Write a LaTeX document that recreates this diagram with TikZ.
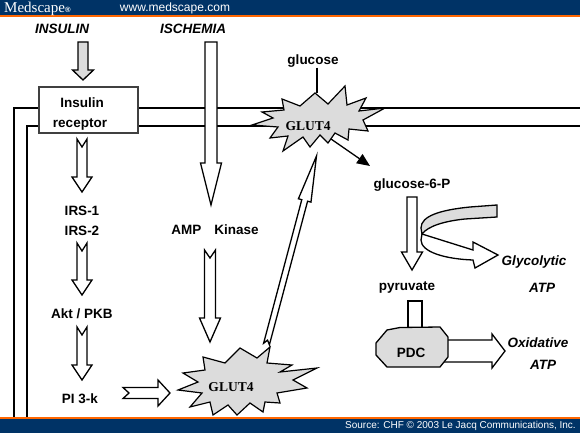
\documentclass[tikz,border=0pt]{standalone}
\usepackage{fontspec}
\setmainfont{Liberation Sans}
\newfontfamily\timesf{Liberation Serif}
\usepackage{tikz}
\usetikzlibrary{calc,arrows.meta}
\definecolor{mblue}{HTML}{003366}
\definecolor{morange}{HTML}{FF6600}
\definecolor{fillg}{HTML}{DCDCDC}
\definecolor{boxg}{HTML}{404040}
\tikzset{
  mem/.style={draw=black, line width=1.7pt},
  blk/.style n args={4}{draw=black, line width=1.3pt, fill=white, to path={
      ($(\tikztostart)!#1!90:(\tikztotarget)$) -- ($(\tikztostart)!#4!(\tikztotarget)$)
      -- ($(\tikztostart)!#1!-90:(\tikztotarget)$)
      -- ($(\tikztotarget)!#3!(\tikztostart)!#1!90:(\tikztostart)$)
      -- ($(\tikztotarget)!#3!(\tikztostart)!#2!90:(\tikztostart)$)
      -- (\tikztotarget)
      -- ($(\tikztotarget)!#3!(\tikztostart)!#2!-90:(\tikztostart)$)
      -- ($(\tikztotarget)!#3!(\tikztostart)!#1!-90:(\tikztostart)$) -- cycle}},
  burst/.style={draw=black, line width=1.2pt, fill=fillg},
  thin/.style={draw=black, line width=1.3pt},
  lab/.style={font=\fontsize{13.5}{16}\selectfont\bfseries, anchor=base, inner sep=0pt},
  labi/.style={lab, font=\fontsize{13.5}{16}\selectfont\bfseries\itshape},
  glut/.style={font=\timesf\fontsize{13.5}{16}\selectfont\bfseries, anchor=base, inner sep=0pt},
  bar/.style={text=white, inner sep=0pt},
}
\begin{document}
\begin{tikzpicture}[x=1pt,y=-1pt]
  \useasboundingbox (0,0) rectangle (580,433);
  \fill[mblue] (0,0) rectangle (580,15);
  \fill[morange] (0,15) rectangle (580,17.5);
  \fill[morange] (0,416.5) rectangle (580,419);
  \fill[mblue] (0,419) rectangle (580,433);
  \node[bar, anchor=base west, font=\timesf\fontsize{15}{16}\selectfont] (med) at (4,12.5)
    {Medscape{\rmfamily\bfseries\fontsize{7.5}{8}\selectfont ®}};
  \node[bar, anchor=base, font=\fontsize{12}{14}\selectfont] (web) at (175,11.5) {www.medscape.com};
  \node[bar, anchor=base east, font=\fontsize{10}{12}\selectfont] (src) at (576,428.5)
    {Source: CHF © 2003 Le Jacq Communications, Inc.};

  \draw[mem] (14,416.5) -- (14,108) -- (580,108);
  \draw[mem] (27,416.5) -- (27,126) -- (580,126);

  \node[labi] (ins) at (62,34) {INSULIN};
  \node[labi] (isch) at (193,34) {ISCHEMIA};
  \node[draw=boxg, line width=1.6pt, fill=white, minimum width=99pt, minimum height=46pt,
        inner sep=0pt] (rec) at (88.5,110) {};
  \node[lab] (recA) at (82,107) {Insulin};
  \node[lab] (recB) at (80,128) {receptor};
  \node[lab] (irsA) at (82,215) {IRS-1};
  \node[lab] (irsB) at (82,235) {IRS-2};
  \node[lab] (akt) at (82,318) {Akt / PKB};
  \node[lab] (pik) at (80,403) {PI 3-k};
  \node[lab] (amp) at (215,234) {AMP\hspace{13pt}Kinase};
  \node[lab] (glu) at (313,64.5) {glucose};
  \node[lab] (gsp) at (412,188) {glucose-6-P};
  \node[lab] (pyr) at (407,290) {pyruvate};
  \node[labi] (gly) at (534,265) {Glycolytic};
  \node[labi] (atpA) at (542,292) {ATP};
  \node[labi] (oxi) at (538,347) {Oxidative};
  \node[labi] (atpB) at (543,369) {ATP};

  \coordinate (insS) at (83,42);    \coordinate (insT) at (83,80);
  \coordinate (ischS) at (211,42);  \coordinate (ischT) at (211,205);
  \coordinate (recS) at (82,139);   \coordinate (irsT) at (82,192);
  \coordinate (irsS) at (82,243);   \coordinate (aktT) at (82,295);
  \coordinate (aktS) at (82,327);   \coordinate (pikT) at (82,380);
  \coordinate (ampS) at (210,250);  \coordinate (ampT) at (210,342);
  \coordinate (pikS) at (123,393);  \coordinate (pikE) at (170,393);
  \coordinate (gbS) at (266.5,344); \coordinate (gtT) at (316.5,156);
  \coordinate (gspS) at (412,197);  \coordinate (gspT) at (412,270);
  \coordinate (pdcS) at (430,351);  \coordinate (oxiT) at (505,351);
  \coordinate (gtip) at (317,93);
  \coordinate (gout) at (331,139);  \coordinate (gin) at (370,166);

  \draw[blk={5pt}{10.5pt}{10pt}{0pt}, fill=fillg] (insS) to (insT);
  \draw[blk={6pt}{10.5pt}{42pt}{0pt}] (ischS) to (ischT);
  \draw[blk={5pt}{10pt}{15pt}{8pt}] (recS) to (irsT);
  \draw[blk={5pt}{10pt}{15pt}{8pt}] (irsS) to (aktT);
  \draw[blk={5pt}{10pt}{15pt}{8pt}] (aktS) to (pikT);
  \draw[blk={5.5pt}{10.5pt}{24pt}{8pt}] (ampS) to (ampT);
  \draw[blk={5.5pt}{13pt}{12pt}{6pt}] (pikS) to (pikE);
  \draw[blk={3pt}{6.5pt}{46pt}{4pt}] (gbS) to (gtT);
  \draw[blk={5pt}{10.5pt}{18pt}{0pt}] (gspS) to (gspT);
  \draw[blk={11pt}{17pt}{13pt}{0pt}] (pdcS) to (oxiT);

  \draw[burst] (315,93) -- (328,104) -- (345,86) -- (347,105) -- (366,98) -- (359,111)
    -- (385,108) -- (363,120) -- (368,131) -- (349,129) -- (348,140) -- (335,133)
    -- (328,143) -- (320,135) -- (310,147) -- (303,137) -- (283,151) -- (288,136)
    -- (270,138) -- (278,127) -- (252,125) -- (273,118) -- (262,112) -- (284,110)
    -- (282,99) -- (300,106) -- cycle;
  \draw[burst] (203,357) -- (225,363) -- (240,348) -- (257,358) -- (270,347) -- (267,363)
    -- (292,365) -- (280,372) -- (317,368) -- (293,380) -- (307,388) -- (277,393)
    -- (280,403) -- (265,402) -- (263,412) -- (250,403) -- (237,415) -- (228,405)
    -- (213,415) -- (210,402) -- (190,407) -- (202,393) -- (178,390) -- (198,382)
    -- (183,373) -- (205,370) -- cycle;
  \node[glut] (gtop) at (308,130) {GLUT4};
  \node[glut] (gbot) at (231,391) {GLUT4};

  \draw[thin] (gtip |- glu.south) -- (gtip);
  \draw[thin, -{Triangle[length=13pt,width=11pt]}] (gout) -- (gin);

  \draw[thin, fill=white] (422,234) -- (473,250) -- (473,242) -- (498,255) -- (475,268)
    -- (473,260) .. controls (445,259) and (421,252) .. (421,240) -- cycle;
  \draw[thin, fill=fillg] (497,205) -- (470,207) .. controls (440,210) and (421,216) .. (421,228)
    -- (422,234) .. controls (428,226) and (445,221) .. (465,219) -- (497,217) -- cycle;

  \draw[thin, fill=white] (408,301) rectangle (422,332);
  \draw[thin, fill=fillg] (376,343) -- (387,330) -- (400,327.5) -- (440,327) -- (448,337)
    -- (448,357) -- (440,367) -- (387,367) -- (376,355) -- cycle;
  \node[lab] (pdc) at (411,357) {PDC};
\end{tikzpicture}
\end{document}
